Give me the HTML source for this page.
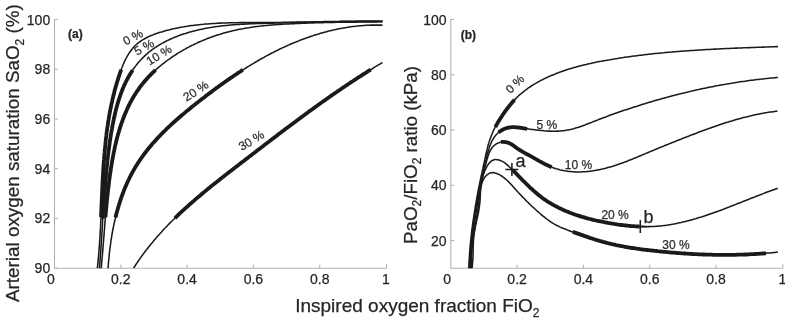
<!DOCTYPE html>
<html><head><meta charset="utf-8"><style>
html,body{margin:0;padding:0;background:#fff;width:785px;height:327px;overflow:hidden}
svg{display:block}
text{font-family:"Liberation Sans",Arial,sans-serif;fill:#262626;stroke:#262626;stroke-width:0.25px}
.tk{font-size:14px}
.cl{font-size:12px;fill:#333}
.ab{font-size:18px}
.pl{font-size:12px;font-weight:bold}
.al{font-size:19px}
.sub{font-size:12px}
</style></head><body>
<svg width="785" height="327" viewBox="0 0 785 327" xmlns="http://www.w3.org/2000/svg">
<path d="M54.5,19.2 L54.5,268.2 L386.5,268.2 L386.5,264.2" fill="none" stroke="#b4b4b4" stroke-width="1.1"/>
<line x1="54.5" y1="268.20" x2="58.0" y2="268.20" stroke="#b4b4b4" stroke-width="1.1"/>
<text x="50.2" y="273.20" text-anchor="end" class="tk">90</text>
<line x1="54.5" y1="218.46" x2="58.0" y2="218.46" stroke="#b4b4b4" stroke-width="1.1"/>
<text x="50.2" y="223.46" text-anchor="end" class="tk">92</text>
<line x1="54.5" y1="168.72" x2="58.0" y2="168.72" stroke="#b4b4b4" stroke-width="1.1"/>
<text x="50.2" y="173.72" text-anchor="end" class="tk">94</text>
<line x1="54.5" y1="118.98" x2="58.0" y2="118.98" stroke="#b4b4b4" stroke-width="1.1"/>
<text x="50.2" y="123.98" text-anchor="end" class="tk">96</text>
<line x1="54.5" y1="69.24" x2="58.0" y2="69.24" stroke="#b4b4b4" stroke-width="1.1"/>
<text x="50.2" y="74.24" text-anchor="end" class="tk">98</text>
<line x1="54.5" y1="19.50" x2="58.0" y2="19.50" stroke="#b4b4b4" stroke-width="1.1"/>
<text x="50.2" y="24.50" text-anchor="end" class="tk">100</text>
<text x="50.80" y="284.3" text-anchor="middle" class="tk">0</text>
<line x1="120.80" y1="268.2" x2="120.80" y2="264.7" stroke="#b4b4b4" stroke-width="1.1"/>
<text x="120.80" y="284.3" text-anchor="middle" class="tk">0.2</text>
<line x1="187.10" y1="268.2" x2="187.10" y2="264.7" stroke="#b4b4b4" stroke-width="1.1"/>
<text x="187.10" y="284.3" text-anchor="middle" class="tk">0.4</text>
<line x1="253.40" y1="268.2" x2="253.40" y2="264.7" stroke="#b4b4b4" stroke-width="1.1"/>
<text x="253.40" y="284.3" text-anchor="middle" class="tk">0.6</text>
<line x1="319.70" y1="268.2" x2="319.70" y2="264.7" stroke="#b4b4b4" stroke-width="1.1"/>
<text x="319.70" y="284.3" text-anchor="middle" class="tk">0.8</text>
<text x="386.00" y="284.3" text-anchor="middle" class="tk">1</text>
<path d="M450.8,19.2 L450.8,268.2 L782.8,268.2 L782.8,264.2" fill="none" stroke="#b4b4b4" stroke-width="1.1"/>
<line x1="450.8" y1="240.57" x2="454.3" y2="240.57" stroke="#b4b4b4" stroke-width="1.1"/>
<text x="446.5" y="245.57" text-anchor="end" class="tk">20</text>
<line x1="450.8" y1="185.30" x2="454.3" y2="185.30" stroke="#b4b4b4" stroke-width="1.1"/>
<text x="446.5" y="190.30" text-anchor="end" class="tk">40</text>
<line x1="450.8" y1="130.03" x2="454.3" y2="130.03" stroke="#b4b4b4" stroke-width="1.1"/>
<text x="446.5" y="135.03" text-anchor="end" class="tk">60</text>
<line x1="450.8" y1="74.77" x2="454.3" y2="74.77" stroke="#b4b4b4" stroke-width="1.1"/>
<text x="446.5" y="79.77" text-anchor="end" class="tk">80</text>
<line x1="450.8" y1="19.50" x2="454.3" y2="19.50" stroke="#b4b4b4" stroke-width="1.1"/>
<text x="446.5" y="24.50" text-anchor="end" class="tk">100</text>
<text x="447.10" y="284.3" text-anchor="middle" class="tk">0</text>
<line x1="517.10" y1="268.2" x2="517.10" y2="264.7" stroke="#b4b4b4" stroke-width="1.1"/>
<text x="517.10" y="284.3" text-anchor="middle" class="tk">0.2</text>
<line x1="583.40" y1="268.2" x2="583.40" y2="264.7" stroke="#b4b4b4" stroke-width="1.1"/>
<text x="583.40" y="284.3" text-anchor="middle" class="tk">0.4</text>
<line x1="649.70" y1="268.2" x2="649.70" y2="264.7" stroke="#b4b4b4" stroke-width="1.1"/>
<text x="649.70" y="284.3" text-anchor="middle" class="tk">0.6</text>
<line x1="716.00" y1="268.2" x2="716.00" y2="264.7" stroke="#b4b4b4" stroke-width="1.1"/>
<text x="716.00" y="284.3" text-anchor="middle" class="tk">0.8</text>
<text x="782.30" y="284.3" text-anchor="middle" class="tk">1</text>
<path d="M97.3,268.2 L97.5,266.7 L97.7,265.2 L97.8,263.7 L98.0,262.2 L98.1,260.7 L98.3,259.2 L98.4,257.7 L98.5,256.2 L98.7,254.7 L98.8,253.2 L98.9,251.7 L99.0,250.2 L99.1,248.7 L99.3,247.2 L99.4,245.7 L99.5,244.2 L99.6,242.7 L99.7,241.2 L99.8,239.7 L99.9,238.2 L100.0,236.7 L100.1,235.2 L100.1,233.6 L100.2,232.1 L100.3,230.6 L100.4,229.1 L100.5,227.6 L100.6,226.1 L100.6,224.6 L100.7,223.1 L100.8,221.6 L100.8,220.1 L100.9,218.6 L101.0,217.1 L101.1,215.6 L101.1,214.1 L101.2,212.6 L101.3,211.1 L101.3,209.6 L101.4,208.0 L101.5,206.5 L101.5,205.0 L101.6,203.5 L101.7,202.0 L101.7,200.5 L101.8,199.0 L101.9,197.5 L101.9,196.0 L102.0,194.5 L102.1,193.0 L102.1,191.5 L102.2,190.0 L102.3,188.5 L102.3,187.0 L102.4,185.5 L102.5,184.0 L102.6,182.5 L102.6,181.0 L102.7,179.5 L102.8,178.0 L102.9,176.4 L103.0,174.9 L103.1,173.4 L103.1,171.9 L103.2,170.4 L103.3,168.9 L103.4,167.4 L103.5,165.9 L103.6,164.4 L103.7,162.9 L103.8,161.4 L104.0,159.9 L104.1,158.4 L104.2,156.9 L104.3,155.4 L104.4,153.9 L104.6,152.4 L104.7,151.0 L104.8,149.5 L105.0,148.0 L105.1,146.5 L105.3,145.0 L105.4,143.5 L105.6,142.0 L105.7,140.5 L105.9,139.0 L106.1,137.5 L106.3,136.0 L106.4,134.5 L106.6,133.0 L106.8,131.5 L107.0,130.1 L107.2,128.6 L107.4,127.1 L107.7,125.6 L107.9,124.1 L108.1,122.6 L108.3,121.1 L108.6,119.6 L108.8,118.2 L109.1,116.7 L109.3,115.2 L109.6,113.7 L109.9,112.2 L110.1,110.7 L110.4,109.3 L110.7,107.8 L111.0,106.3 L111.3,104.8 L111.6,103.4 L112.0,101.9 L112.3,100.4 L112.6,98.9 L113.0,97.5 L113.3,96.0 L113.7,94.5 L114.1,93.0 L114.4,91.6 L114.8,90.1 L115.2,88.6 L115.6,87.2 L116.0,85.7 L116.5,84.2 L116.9,82.8 L117.3,81.3 L117.8,79.9 L118.2,78.4 L118.7,76.9 L119.2,75.5 L119.7,74.0 L120.1,72.6 L120.7,71.1 L121.2,69.7 L121.7,68.2 L122.3,66.8 L122.8,65.4 L123.4,64.0 L124.0,62.6 L124.7,61.2 L125.3,59.9 L126.0,58.5 L126.7,57.2 L127.4,55.9 L128.2,54.6 L128.9,53.4 L129.8,52.2 L130.6,51.0 L131.5,49.8 L132.4,48.7 L133.3,47.6 L134.3,46.5 L135.3,45.5 L136.4,44.5 L137.5,43.6 L138.6,42.7 L139.7,41.8 L140.9,41.0 L142.2,40.2 L143.4,39.4 L144.7,38.7 L146.0,38.0 L147.3,37.3 L148.7,36.6 L150.1,36.0 L151.5,35.4 L152.9,34.9 L154.3,34.3 L155.7,33.8 L157.2,33.3 L158.6,32.8 L160.1,32.3 L161.6,31.9 L163.1,31.4 L164.6,31.0 L166.1,30.6 L167.6,30.2 L169.0,29.9 L170.5,29.5 L172.0,29.1 L173.5,28.8 L175.0,28.5 L176.5,28.2 L178.0,27.9 L179.5,27.6 L181.0,27.3 L182.5,27.0 L184.0,26.8 L185.5,26.5 L187.0,26.3 L188.5,26.0 L189.9,25.8 L191.4,25.6 L192.9,25.4 L194.4,25.2 L195.9,25.0 L197.4,24.9 L198.9,24.7 L200.4,24.5 L201.9,24.4 L203.4,24.3 L204.9,24.1 L206.4,24.0 L207.9,23.9 L209.4,23.8 L210.9,23.7 L212.4,23.6 L213.9,23.5 L215.4,23.4 L216.9,23.3 L218.4,23.2 L219.9,23.1 L221.4,23.1 L222.9,23.0 L224.4,23.0 L225.9,22.9 L227.4,22.9 L228.9,22.8 L230.4,22.8 L231.9,22.8 L233.4,22.7 L234.9,22.7 L236.4,22.7 L237.9,22.7 L239.4,22.6 L240.9,22.6 L242.4,22.6 L243.9,22.6 L245.4,22.6 L246.9,22.6 L248.4,22.6 L249.9,22.6 L251.4,22.6 L252.9,22.6 L254.4,22.5 L255.9,22.5 L257.4,22.5 L258.9,22.5 L260.4,22.5 L261.9,22.5 L263.4,22.5 L264.9,22.5 L266.5,22.5 L268.0,22.5 L269.5,22.5 L271.0,22.5 L272.5,22.5 L274.0,22.4 L275.5,22.4 L277.0,22.4 L278.5,22.4 L280.0,22.4 L281.5,22.4 L283.0,22.3 L284.5,22.3 L286.0,22.3 L287.6,22.3 L289.1,22.2 L290.6,22.2 L292.1,22.2 L293.6,22.2 L295.1,22.2 L296.6,22.1 L298.1,22.1 L299.6,22.1 L301.1,22.0 L302.6,22.0 L304.2,22.0 L305.7,22.0 L307.2,21.9 L308.7,21.9 L310.2,21.9 L311.7,21.9 L313.2,21.8 L314.7,21.8 L316.2,21.8 L317.7,21.7 L319.2,21.7 L320.8,21.7 L322.3,21.7 L323.8,21.6 L325.3,21.6 L326.8,21.6 L328.3,21.5 L329.8,21.5 L331.3,21.5 L332.8,21.5 L334.3,21.4 L335.8,21.4 L337.3,21.4 L338.9,21.4 L340.4,21.3 L341.9,21.3 L343.4,21.3 L344.9,21.3 L346.4,21.3 L347.9,21.2 L349.4,21.2 L350.9,21.2 L352.4,21.2 L353.9,21.2 L355.4,21.2 L356.9,21.1 L358.4,21.1 L359.9,21.1 L361.4,21.1 L362.9,21.1 L364.4,21.1 L366.0,21.1 L367.5,21.1 L369.0,21.1 L370.5,21.1 L372.0,21.1 L373.5,21.1 L375.0,21.1 L376.5,21.1 L378.0,21.1 L379.5,21.1 L381.0,21.1 L382.5,21.1" fill="none" stroke="#1a1a1a" stroke-width="1.55" stroke-linejoin="round"/>
<path d="M101.0,217.1 L101.1,215.6 L101.1,214.1 L101.2,212.6 L101.3,211.1 L101.3,209.6 L101.4,208.0 L101.5,206.5 L101.5,205.0 L101.6,203.5 L101.7,202.0 L101.7,200.5 L101.8,199.0 L101.9,197.5 L101.9,196.0 L102.0,194.5 L102.1,193.0 L102.1,191.5 L102.2,190.0 L102.3,188.5 L102.3,187.0 L102.4,185.5 L102.5,184.0 L102.6,182.5 L102.6,181.0 L102.7,179.5 L102.8,178.0 L102.9,176.4 L103.0,174.9 L103.1,173.4 L103.1,171.9 L103.2,170.4 L103.3,168.9 L103.4,167.4 L103.5,165.9 L103.6,164.4 L103.7,162.9 L103.8,161.4 L104.0,159.9 L104.1,158.4 L104.2,156.9 L104.3,155.4 L104.4,153.9 L104.6,152.4 L104.7,151.0 L104.8,149.5 L105.0,148.0 L105.1,146.5 L105.3,145.0 L105.4,143.5 L105.6,142.0 L105.7,140.5 L105.9,139.0 L106.1,137.5 L106.3,136.0 L106.4,134.5 L106.6,133.0 L106.8,131.5 L107.0,130.1 L107.2,128.6 L107.4,127.1 L107.7,125.6 L107.9,124.1 L108.1,122.6 L108.3,121.1 L108.6,119.6 L108.8,118.2 L109.1,116.7 L109.3,115.2 L109.6,113.7 L109.9,112.2 L110.1,110.7 L110.4,109.3 L110.7,107.8 L111.0,106.3 L111.3,104.8 L111.6,103.4 L112.0,101.9 L112.3,100.4 L112.6,98.9 L113.0,97.5 L113.3,96.0 L113.7,94.5 L114.1,93.0 L114.4,91.6 L114.8,90.1 L115.2,88.6 L115.6,87.2 L116.0,85.7 L116.5,84.2 L116.9,82.8 L117.3,81.3 L117.8,79.9 L118.2,78.4 L118.7,76.9 L119.2,75.5 L119.7,74.0 L120.1,72.6 L120.7,71.1 L121.2,69.7" fill="none" stroke="#1a1a1a" stroke-width="3.8" stroke-linejoin="round"/>
<path d="M468.7,268.2 L468.8,266.7 L468.9,265.2 L469.0,263.7 L469.0,262.2 L469.1,260.7 L469.2,259.2 L469.3,257.7 L469.4,256.2 L469.5,254.7 L469.6,253.2 L469.7,251.7 L469.9,250.2 L470.0,248.7 L470.1,247.2 L470.2,245.7 L470.4,244.2 L470.5,242.7 L470.7,241.2 L470.8,239.7 L471.0,238.2 L471.2,236.7 L471.3,235.2 L471.5,233.7 L471.7,232.2 L471.8,230.7 L472.0,229.2 L472.2,227.7 L472.4,226.2 L472.6,224.7 L472.8,223.2 L473.0,221.7 L473.2,220.3 L473.4,218.8 L473.7,217.3 L473.9,215.8 L474.1,214.3 L474.3,212.8 L474.6,211.3 L474.8,209.8 L475.1,208.4 L475.3,206.9 L475.5,205.4 L475.8,203.9 L476.1,202.4 L476.3,200.9 L476.6,199.4 L476.8,198.0 L477.1,196.5 L477.4,195.0 L477.7,193.5 L478.0,192.0 L478.2,190.6 L478.5,189.1 L478.8,187.6 L479.1,186.1 L479.4,184.7 L479.7,183.2 L480.0,181.7 L480.3,180.2 L480.6,178.8 L480.9,177.3 L481.3,175.8 L481.6,174.4 L481.9,172.9 L482.2,171.4 L482.5,169.9 L482.9,168.5 L483.2,167.0 L483.5,165.5 L483.8,164.1 L484.1,162.6 L484.5,161.1 L484.8,159.6 L485.1,158.2 L485.4,156.7 L485.7,155.2 L486.1,153.8 L486.4,152.3 L486.8,150.8 L487.1,149.4 L487.5,147.9 L487.8,146.5 L488.2,145.0 L488.6,143.6 L489.1,142.2 L489.5,140.7 L490.0,139.3 L490.5,137.9 L491.0,136.5 L491.6,135.1 L492.1,133.8 L492.7,132.4 L493.3,131.0 L494.0,129.7 L494.6,128.3 L495.3,127.0 L496.0,125.7 L496.8,124.4 L497.5,123.1 L498.3,121.8 L499.1,120.5 L499.9,119.2 L500.7,117.9 L501.5,116.7 L502.3,115.4 L503.2,114.2 L504.1,112.9 L504.9,111.7 L505.8,110.5 L506.7,109.2 L507.7,108.0 L508.6,106.8 L509.5,105.6 L510.5,104.5 L511.5,103.3 L512.4,102.2 L513.4,101.0 L514.5,99.9 L515.5,98.9 L516.6,97.8 L517.6,96.7 L518.7,95.7 L519.9,94.7 L521.0,93.7 L522.1,92.8 L523.3,91.8 L524.5,90.9 L525.7,90.0 L526.9,89.1 L528.1,88.2 L529.3,87.4 L530.6,86.5 L531.8,85.7 L533.1,84.9 L534.4,84.1 L535.7,83.4 L537.0,82.6 L538.3,81.9 L539.6,81.2 L540.9,80.4 L542.3,79.8 L543.6,79.1 L545.0,78.4 L546.4,77.8 L547.7,77.1 L549.1,76.5 L550.5,75.9 L551.9,75.3 L553.3,74.7 L554.7,74.2 L556.1,73.6 L557.5,73.1 L558.9,72.5 L560.3,72.0 L561.7,71.5 L563.1,71.0 L564.6,70.5 L566.0,70.0 L567.4,69.6 L568.9,69.1 L570.3,68.7 L571.7,68.2 L573.2,67.8 L574.6,67.4 L576.1,67.0 L577.5,66.6 L579.0,66.2 L580.4,65.8 L581.9,65.4 L583.3,65.1 L584.8,64.7 L586.3,64.4 L587.7,64.0 L589.2,63.7 L590.7,63.4 L592.1,63.0 L593.6,62.7 L595.1,62.4 L596.6,62.1 L598.0,61.8 L599.5,61.5 L601.0,61.3 L602.5,61.0 L604.0,60.7 L605.4,60.4 L606.9,60.2 L608.4,59.9 L609.9,59.7 L611.4,59.4 L612.9,59.2 L614.3,58.9 L615.8,58.7 L617.3,58.5 L618.8,58.2 L620.3,58.0 L621.8,57.8 L623.3,57.6 L624.8,57.3 L626.3,57.1 L627.8,56.9 L629.2,56.7 L630.7,56.5 L632.2,56.3 L633.7,56.1 L635.2,55.9 L636.7,55.7 L638.2,55.5 L639.7,55.3 L641.2,55.2 L642.7,55.0 L644.2,54.8 L645.7,54.6 L647.2,54.5 L648.7,54.3 L650.2,54.1 L651.7,54.0 L653.2,53.8 L654.7,53.6 L656.2,53.5 L657.6,53.3 L659.1,53.2 L660.6,53.0 L662.1,52.9 L663.6,52.8 L665.1,52.6 L666.6,52.5 L668.1,52.3 L669.6,52.2 L671.1,52.1 L672.6,51.9 L674.1,51.8 L675.6,51.7 L677.1,51.6 L678.6,51.5 L680.1,51.3 L681.6,51.2 L683.1,51.1 L684.6,51.0 L686.2,50.9 L687.7,50.8 L689.2,50.7 L690.7,50.6 L692.2,50.5 L693.7,50.4 L695.2,50.3 L696.7,50.2 L698.2,50.1 L699.7,50.0 L701.2,49.9 L702.7,49.8 L704.2,49.7 L705.7,49.6 L707.2,49.5 L708.7,49.5 L710.2,49.4 L711.7,49.3 L713.2,49.2 L714.7,49.1 L716.2,49.1 L717.7,49.0 L719.2,48.9 L720.7,48.8 L722.2,48.8 L723.7,48.7 L725.2,48.6 L726.7,48.5 L728.3,48.5 L729.8,48.4 L731.3,48.3 L732.8,48.3 L734.3,48.2 L735.8,48.1 L737.3,48.1 L738.8,48.0 L740.3,48.0 L741.8,47.9 L743.3,47.8 L744.8,47.8 L746.3,47.7 L747.8,47.7 L749.3,47.6 L750.8,47.6 L752.3,47.5 L753.8,47.4 L755.3,47.4 L756.8,47.3 L758.3,47.3 L759.8,47.2 L761.4,47.2 L762.9,47.1 L764.4,47.1 L765.9,47.0 L767.4,47.0 L768.9,46.9 L770.4,46.8 L771.9,46.8 L773.4,46.7 L774.9,46.7 L776.4,46.6 L777.9,46.6" fill="none" stroke="#1a1a1a" stroke-width="1.55" stroke-linejoin="round"/>
<path d="M495.3,127.0 L496.0,125.7 L496.8,124.4 L497.5,123.1 L498.3,121.8 L499.1,120.5 L499.9,119.2 L500.7,117.9 L501.5,116.7 L502.3,115.4 L503.2,114.2 L504.1,112.9 L504.9,111.7 L505.8,110.5 L506.7,109.2 L507.7,108.0 L508.6,106.8 L509.5,105.6 L510.5,104.5 L511.5,103.3 L512.4,102.2 L513.4,101.0 L514.5,99.9" fill="none" stroke="#1a1a1a" stroke-width="3.8" stroke-linejoin="round"/>
<path d="M99.4,268.3 L99.5,266.7 L99.6,265.2 L99.8,263.7 L99.9,262.2 L100.0,260.7 L100.1,259.2 L100.2,257.6 L100.3,256.1 L100.4,254.6 L100.6,253.1 L100.7,251.6 L100.8,250.1 L100.9,248.6 L101.0,247.1 L101.1,245.6 L101.2,244.1 L101.3,242.5 L101.4,241.0 L101.5,239.5 L101.6,238.0 L101.7,236.5 L101.8,235.0 L101.9,233.5 L102.0,232.0 L102.1,230.5 L102.2,229.0 L102.3,227.5 L102.4,226.0 L102.5,224.5 L102.5,223.0 L102.6,221.5 L102.7,220.0 L102.8,218.5 L102.9,217.0 L103.0,215.5 L103.1,214.0 L103.2,212.5 L103.3,211.0 L103.4,209.5 L103.5,208.0 L103.6,206.5 L103.7,205.0 L103.8,203.5 L103.9,202.0 L104.0,200.5 L104.1,199.0 L104.3,197.5 L104.4,196.0 L104.5,194.5 L104.6,193.0 L104.7,191.5 L104.8,190.0 L104.9,188.5 L105.0,187.0 L105.2,185.5 L105.3,184.0 L105.4,182.5 L105.5,181.0 L105.7,179.5 L105.8,178.0 L105.9,176.5 L106.0,175.0 L106.2,173.5 L106.3,172.0 L106.5,170.5 L106.6,169.0 L106.8,167.5 L106.9,166.0 L107.1,164.5 L107.2,163.0 L107.4,161.5 L107.5,160.0 L107.7,158.5 L107.9,157.0 L108.0,155.5 L108.2,154.0 L108.4,152.5 L108.6,151.0 L108.8,149.5 L109.0,148.0 L109.2,146.5 L109.4,145.0 L109.6,143.5 L109.8,142.0 L110.0,140.6 L110.2,139.1 L110.5,137.6 L110.7,136.1 L110.9,134.6 L111.2,133.1 L111.4,131.6 L111.7,130.1 L112.0,128.6 L112.2,127.1 L112.5,125.6 L112.8,124.1 L113.1,122.6 L113.4,121.1 L113.7,119.6 L114.0,118.1 L114.4,116.6 L114.7,115.1 L115.1,113.6 L115.4,112.1 L115.8,110.6 L116.1,109.1 L116.5,107.7 L116.9,106.2 L117.3,104.7 L117.8,103.2 L118.2,101.8 L118.6,100.3 L119.1,98.9 L119.6,97.4 L120.1,96.0 L120.6,94.5 L121.1,93.1 L121.6,91.7 L122.2,90.3 L122.7,88.8 L123.3,87.5 L123.9,86.1 L124.5,84.7 L125.2,83.3 L125.8,82.0 L126.5,80.6 L127.2,79.3 L127.9,77.9 L128.7,76.6 L129.4,75.3 L130.2,74.0 L131.0,72.8 L131.8,71.5 L132.6,70.2 L133.4,69.0 L134.3,67.8 L135.2,66.6 L136.1,65.4 L137.0,64.2 L137.9,63.1 L138.9,62.0 L139.9,60.8 L140.9,59.8 L141.9,58.7 L142.9,57.6 L144.0,56.6 L145.0,55.6 L146.1,54.6 L147.3,53.6 L148.4,52.6 L149.5,51.7 L150.7,50.8 L151.9,49.9 L153.1,49.0 L154.3,48.2 L155.6,47.3 L156.8,46.5 L158.1,45.7 L159.3,44.9 L160.6,44.2 L161.9,43.4 L163.3,42.7 L164.6,42.0 L165.9,41.3 L167.3,40.6 L168.6,40.0 L170.0,39.3 L171.4,38.7 L172.8,38.1 L174.2,37.5 L175.6,36.9 L177.0,36.4 L178.4,35.8 L179.8,35.3 L181.2,34.8 L182.7,34.3 L184.1,33.8 L185.5,33.4 L187.0,32.9 L188.4,32.5 L189.9,32.1 L191.3,31.7 L192.8,31.3 L194.3,30.9 L195.7,30.5 L197.2,30.2 L198.7,29.8 L200.1,29.5 L201.6,29.2 L203.1,28.9 L204.6,28.6 L206.0,28.3 L207.5,28.0 L209.0,27.8 L210.5,27.5 L212.0,27.3 L213.5,27.0 L215.0,26.8 L216.5,26.6 L218.0,26.4 L219.5,26.2 L221.0,26.0 L222.5,25.8 L224.0,25.7 L225.5,25.5 L227.0,25.4 L228.5,25.2 L230.0,25.1 L231.5,25.0 L233.1,24.8 L234.6,24.7 L236.1,24.6 L237.6,24.5 L239.1,24.4 L240.6,24.3 L242.2,24.2 L243.7,24.1 L245.2,24.1 L246.7,24.0 L248.2,23.9 L249.7,23.8 L251.3,23.8 L252.8,23.7 L254.3,23.7 L255.8,23.6 L257.3,23.5 L258.9,23.5 L260.4,23.4 L261.9,23.4 L263.4,23.4 L264.9,23.3 L266.4,23.3 L268.0,23.2 L269.5,23.2 L271.0,23.1 L272.5,23.1 L274.0,23.1 L275.5,23.0 L277.0,23.0 L278.5,22.9 L280.1,22.9 L281.6,22.9 L283.1,22.8 L284.6,22.8 L286.1,22.8 L287.6,22.7 L289.1,22.7 L290.6,22.6 L292.1,22.6 L293.6,22.6 L295.1,22.5 L296.6,22.5 L298.1,22.5 L299.6,22.4 L301.1,22.4 L302.6,22.3 L304.1,22.3 L305.6,22.3 L307.1,22.2 L308.6,22.2 L310.1,22.2 L311.6,22.1 L313.1,22.1 L314.6,22.1 L316.1,22.1 L317.6,22.0 L319.1,22.0 L320.6,22.0 L322.1,21.9 L323.6,21.9 L325.1,21.9 L326.6,21.9 L328.1,21.8 L329.6,21.8 L331.1,21.8 L332.6,21.8 L334.1,21.7 L335.6,21.7 L337.1,21.7 L338.6,21.7 L340.1,21.6 L341.6,21.6 L343.1,21.6 L344.7,21.6 L346.2,21.6 L347.7,21.5 L349.2,21.5 L350.7,21.5 L352.2,21.5 L353.7,21.5 L355.2,21.5 L356.7,21.5 L358.2,21.4 L359.8,21.4 L361.3,21.4 L362.8,21.4 L364.3,21.4 L365.8,21.4 L367.3,21.4 L368.9,21.4 L370.4,21.4 L371.9,21.4 L373.4,21.4 L375.0,21.4 L376.5,21.4 L378.0,21.4 L379.5,21.4 L381.1,21.4 L382.6,21.4" fill="none" stroke="#1a1a1a" stroke-width="1.55" stroke-linejoin="round"/>
<path d="M102.8,218.5 L102.9,217.0 L103.0,215.5 L103.1,214.0 L103.2,212.5 L103.3,211.0 L103.4,209.5 L103.5,208.0 L103.6,206.5 L103.7,205.0 L103.8,203.5 L103.9,202.0 L104.0,200.5 L104.1,199.0 L104.3,197.5 L104.4,196.0 L104.5,194.5 L104.6,193.0 L104.7,191.5 L104.8,190.0 L104.9,188.5 L105.0,187.0 L105.2,185.5 L105.3,184.0 L105.4,182.5 L105.5,181.0 L105.7,179.5 L105.8,178.0 L105.9,176.5 L106.0,175.0 L106.2,173.5 L106.3,172.0 L106.5,170.5 L106.6,169.0 L106.8,167.5 L106.9,166.0 L107.1,164.5 L107.2,163.0 L107.4,161.5 L107.5,160.0 L107.7,158.5 L107.9,157.0 L108.0,155.5 L108.2,154.0 L108.4,152.5 L108.6,151.0 L108.8,149.5 L109.0,148.0 L109.2,146.5 L109.4,145.0 L109.6,143.5 L109.8,142.0 L110.0,140.6 L110.2,139.1 L110.5,137.6 L110.7,136.1 L110.9,134.6 L111.2,133.1 L111.4,131.6 L111.7,130.1 L112.0,128.6 L112.2,127.1 L112.5,125.6 L112.8,124.1 L113.1,122.6 L113.4,121.1 L113.7,119.6 L114.0,118.1 L114.4,116.6 L114.7,115.1 L115.1,113.6 L115.4,112.1 L115.8,110.6 L116.1,109.1 L116.5,107.7 L116.9,106.2 L117.3,104.7 L117.8,103.2 L118.2,101.8 L118.6,100.3 L119.1,98.9 L119.6,97.4 L120.1,96.0 L120.6,94.5 L121.1,93.1 L121.6,91.7 L122.2,90.3 L122.7,88.8 L123.3,87.5 L123.9,86.1 L124.5,84.7 L125.2,83.3 L125.8,82.0 L126.5,80.6 L127.2,79.3 L127.9,77.9 L128.7,76.6 L129.4,75.3 L130.2,74.0 L131.0,72.8 L131.8,71.5 L132.6,70.2" fill="none" stroke="#1a1a1a" stroke-width="3.8" stroke-linejoin="round"/>
<path d="M469.6,268.1 L469.6,266.7 L469.7,265.2 L469.8,263.7 L469.8,262.2 L469.9,260.7 L470.0,259.2 L470.1,257.7 L470.2,256.2 L470.3,254.7 L470.4,253.2 L470.5,251.7 L470.6,250.2 L470.8,248.7 L470.9,247.2 L471.0,245.7 L471.2,244.2 L471.3,242.7 L471.4,241.2 L471.6,239.6 L471.8,238.1 L471.9,236.6 L472.1,235.1 L472.3,233.6 L472.4,232.1 L472.6,230.6 L472.8,229.0 L473.0,227.5 L473.2,226.0 L473.4,224.5 L473.6,223.0 L473.8,221.5 L474.0,220.0 L474.2,218.5 L474.4,217.0 L474.7,215.5 L474.9,214.0 L475.1,212.5 L475.4,211.0 L475.6,209.5 L475.9,208.0 L476.1,206.5 L476.4,205.1 L476.6,203.6 L476.9,202.1 L477.2,200.6 L477.5,199.2 L477.7,197.7 L478.0,196.3 L478.3,194.8 L478.6,193.3 L478.9,191.9 L479.2,190.4 L479.5,189.0 L479.8,187.5 L480.1,186.1 L480.4,184.7 L480.7,183.2 L481.0,181.7 L481.4,180.3 L481.7,178.8 L482.0,177.4 L482.3,175.9 L482.7,174.5 L483.0,173.0 L483.3,171.5 L483.7,170.1 L484.0,168.6 L484.4,167.1 L484.7,165.6 L485.0,164.1 L485.4,162.6 L485.7,161.1 L486.1,159.6 L486.5,158.0 L486.8,156.5 L487.2,155.0 L487.6,153.5 L488.0,151.9 L488.4,150.4 L488.9,148.9 L489.3,147.5 L489.8,146.0 L490.4,144.6 L491.0,143.2 L491.6,141.8 L492.2,140.5 L493.0,139.2 L493.7,138.0 L494.5,136.8 L495.4,135.6 L496.4,134.5 L497.4,133.5 L498.5,132.5 L499.6,131.6 L500.8,130.8 L502.1,130.0 L503.4,129.3 L504.8,128.7 L506.2,128.2 L507.6,127.8 L509.0,127.5 L510.5,127.3 L512.0,127.1 L513.5,127.1 L515.0,127.2 L516.5,127.3 L518.0,127.5 L519.5,127.7 L521.0,127.9 L522.6,128.1 L524.1,128.3 L525.6,128.6 L527.1,128.8 L528.6,129.0 L530.2,129.2 L531.7,129.4 L533.2,129.6 L534.7,129.8 L536.2,130.0 L537.7,130.2 L539.3,130.3 L540.8,130.5 L542.3,130.6 L543.8,130.8 L545.3,130.9 L546.8,131.0 L548.3,131.1 L549.8,131.1 L551.3,131.2 L552.8,131.2 L554.3,131.2 L555.8,131.2 L557.3,131.1 L558.8,131.1 L560.3,131.0 L561.8,130.8 L563.2,130.7 L564.7,130.5 L566.2,130.3 L567.7,130.0 L569.1,129.7 L570.6,129.4 L572.0,129.0 L573.5,128.7 L574.9,128.3 L576.4,127.8 L577.8,127.4 L579.3,126.9 L580.7,126.4 L582.2,125.9 L583.6,125.4 L585.0,124.9 L586.5,124.3 L587.9,123.8 L589.3,123.2 L590.7,122.7 L592.2,122.1 L593.6,121.5 L595.0,121.0 L596.4,120.4 L597.8,119.9 L599.3,119.3 L600.7,118.8 L602.1,118.3 L603.5,117.7 L604.9,117.2 L606.3,116.7 L607.8,116.1 L609.2,115.6 L610.6,115.1 L612.0,114.6 L613.4,114.1 L614.8,113.6 L616.3,113.1 L617.7,112.6 L619.1,112.1 L620.5,111.6 L621.9,111.1 L623.4,110.6 L624.8,110.1 L626.2,109.7 L627.6,109.2 L629.1,108.7 L630.5,108.2 L631.9,107.8 L633.4,107.3 L634.8,106.8 L636.2,106.4 L637.7,105.9 L639.1,105.5 L640.5,105.0 L642.0,104.6 L643.4,104.1 L644.8,103.7 L646.3,103.2 L647.7,102.8 L649.2,102.3 L650.6,101.9 L652.1,101.5 L653.5,101.1 L655.0,100.6 L656.4,100.2 L657.9,99.8 L659.3,99.4 L660.8,99.0 L662.2,98.6 L663.7,98.2 L665.1,97.8 L666.6,97.4 L668.0,97.0 L669.5,96.6 L671.0,96.2 L672.4,95.8 L673.9,95.4 L675.3,95.1 L676.8,94.7 L678.3,94.3 L679.7,93.9 L681.2,93.6 L682.7,93.2 L684.1,92.9 L685.6,92.5 L687.1,92.2 L688.5,91.8 L690.0,91.5 L691.5,91.1 L692.9,90.8 L694.4,90.4 L695.9,90.1 L697.4,89.8 L698.8,89.5 L700.3,89.1 L701.8,88.8 L703.3,88.5 L704.8,88.2 L706.2,87.9 L707.7,87.6 L709.2,87.3 L710.7,87.0 L712.2,86.7 L713.6,86.4 L715.1,86.1 L716.6,85.8 L718.1,85.6 L719.6,85.3 L721.1,85.0 L722.5,84.7 L724.0,84.5 L725.5,84.2 L727.0,84.0 L728.5,83.7 L730.0,83.5 L731.5,83.2 L733.0,83.0 L734.5,82.7 L736.0,82.5 L737.4,82.3 L738.9,82.0 L740.4,81.8 L741.9,81.6 L743.4,81.4 L744.9,81.2 L746.4,80.9 L747.9,80.7 L749.4,80.5 L750.9,80.3 L752.4,80.2 L753.9,80.0 L755.4,79.8 L756.9,79.6 L758.4,79.4 L759.9,79.2 L761.4,79.1 L762.9,78.9 L764.4,78.7 L765.9,78.6 L767.4,78.4 L768.9,78.3 L770.4,78.1 L771.9,78.0 L773.4,77.9 L774.9,77.7 L776.4,77.6 L777.9,77.5" fill="none" stroke="#1a1a1a" stroke-width="1.55" stroke-linejoin="round"/>
<path d="M498.5,132.5 L499.6,131.6 L500.8,130.8 L502.1,130.0 L503.4,129.3 L504.8,128.7 L506.2,128.2 L507.6,127.8 L509.0,127.5 L510.5,127.3 L512.0,127.1 L513.5,127.1 L515.0,127.2 L516.5,127.3 L518.0,127.5 L519.5,127.7 L521.0,127.9 L522.6,128.1 L524.1,128.3 L525.6,128.6 L527.1,128.8" fill="none" stroke="#1a1a1a" stroke-width="3.8" stroke-linejoin="round"/>
<path d="M101.2,268.2 L101.3,266.7 L101.5,265.2 L101.6,263.7 L101.7,262.2 L101.9,260.7 L102.0,259.2 L102.1,257.6 L102.3,256.1 L102.4,254.6 L102.5,253.1 L102.7,251.6 L102.8,250.1 L102.9,248.6 L103.0,247.1 L103.1,245.6 L103.3,244.1 L103.4,242.6 L103.5,241.1 L103.6,239.6 L103.7,238.1 L103.9,236.6 L104.0,235.1 L104.1,233.6 L104.2,232.2 L104.3,230.7 L104.5,229.2 L104.6,227.7 L104.7,226.2 L104.8,224.7 L104.9,223.2 L105.1,221.7 L105.2,220.2 L105.3,218.7 L105.4,217.2 L105.6,215.7 L105.7,214.2 L105.8,212.8 L106.0,211.3 L106.1,209.8 L106.2,208.3 L106.4,206.8 L106.5,205.3 L106.6,203.8 L106.8,202.3 L106.9,200.8 L107.1,199.3 L107.2,197.9 L107.4,196.4 L107.6,194.9 L107.7,193.4 L107.9,191.9 L108.0,190.4 L108.2,188.9 L108.4,187.4 L108.6,185.9 L108.8,184.4 L108.9,182.9 L109.1,181.4 L109.3,179.9 L109.5,178.4 L109.7,176.9 L109.9,175.4 L110.1,173.9 L110.4,172.4 L110.6,171.0 L110.8,169.4 L111.0,167.9 L111.3,166.4 L111.5,164.9 L111.8,163.4 L112.0,161.9 L112.3,160.4 L112.6,158.9 L112.8,157.4 L113.1,155.9 L113.4,154.4 L113.7,152.9 L114.0,151.5 L114.3,150.0 L114.6,148.5 L114.9,147.0 L115.3,145.5 L115.6,144.0 L116.0,142.5 L116.3,141.1 L116.7,139.6 L117.1,138.1 L117.4,136.6 L117.8,135.2 L118.2,133.7 L118.7,132.3 L119.1,130.8 L119.5,129.4 L120.0,127.9 L120.4,126.5 L120.9,125.1 L121.4,123.6 L121.9,122.2 L122.4,120.8 L122.9,119.4 L123.4,118.0 L124.0,116.6 L124.5,115.2 L125.1,113.8 L125.7,112.4 L126.3,111.1 L126.9,109.7 L127.5,108.3 L128.1,107.0 L128.8,105.7 L129.4,104.3 L130.1,103.0 L130.8,101.7 L131.5,100.4 L132.2,99.1 L133.0,97.8 L133.7,96.5 L134.5,95.3 L135.3,94.0 L136.1,92.8 L136.9,91.5 L137.7,90.3 L138.6,89.1 L139.4,87.9 L140.3,86.7 L141.2,85.5 L142.1,84.3 L143.1,83.2 L144.0,82.0 L145.0,80.9 L146.0,79.7 L147.0,78.6 L148.0,77.5 L149.0,76.4 L150.1,75.4 L151.1,74.3 L152.2,73.2 L153.3,72.2 L154.4,71.2 L155.5,70.1 L156.6,69.1 L157.7,68.1 L158.9,67.1 L160.1,66.2 L161.2,65.2 L162.4,64.2 L163.6,63.3 L164.8,62.4 L166.0,61.4 L167.2,60.5 L168.4,59.6 L169.7,58.8 L170.9,57.9 L172.2,57.0 L173.4,56.2 L174.7,55.3 L176.0,54.5 L177.2,53.7 L178.5,52.9 L179.8,52.1 L181.1,51.3 L182.4,50.6 L183.7,49.8 L185.1,49.1 L186.4,48.3 L187.7,47.6 L189.0,46.9 L190.4,46.2 L191.7,45.5 L193.1,44.9 L194.4,44.2 L195.8,43.6 L197.2,42.9 L198.5,42.3 L199.9,41.7 L201.3,41.1 L202.7,40.5 L204.0,39.9 L205.4,39.4 L206.8,38.8 L208.2,38.3 L209.6,37.8 L211.0,37.2 L212.4,36.7 L213.8,36.2 L215.3,35.8 L216.7,35.3 L218.1,34.8 L219.5,34.4 L221.0,33.9 L222.4,33.5 L223.8,33.1 L225.3,32.7 L226.7,32.3 L228.2,31.9 L229.6,31.5 L231.1,31.2 L232.5,30.8 L234.0,30.5 L235.4,30.2 L236.9,29.8 L238.4,29.5 L239.8,29.2 L241.3,28.9 L242.8,28.7 L244.3,28.4 L245.7,28.1 L247.2,27.9 L248.7,27.7 L250.2,27.4 L251.7,27.2 L253.2,27.0 L254.7,26.8 L256.1,26.6 L257.6,26.4 L259.1,26.2 L260.6,26.1 L262.1,25.9 L263.6,25.7 L265.1,25.6 L266.6,25.4 L268.1,25.3 L269.6,25.2 L271.1,25.0 L272.7,24.9 L274.2,24.8 L275.7,24.7 L277.2,24.6 L278.7,24.5 L280.2,24.4 L281.7,24.3 L283.2,24.2 L284.7,24.1 L286.2,24.0 L287.7,23.9 L289.2,23.9 L290.7,23.8 L292.2,23.7 L293.7,23.6 L295.2,23.6 L296.8,23.5 L298.3,23.4 L299.8,23.4 L301.3,23.3 L302.8,23.2 L304.3,23.2 L305.8,23.1 L307.3,23.1 L308.8,23.0 L310.3,23.0 L311.8,22.9 L313.3,22.9 L314.8,22.8 L316.3,22.8 L317.8,22.7 L319.3,22.7 L320.8,22.7 L322.3,22.6 L323.8,22.6 L325.3,22.5 L326.8,22.5 L328.3,22.5 L329.8,22.5 L331.3,22.4 L332.8,22.4 L334.3,22.4 L335.9,22.3 L337.4,22.3 L338.9,22.3 L340.4,22.3 L341.9,22.2 L343.4,22.2 L344.9,22.2 L346.4,22.2 L347.9,22.2 L349.4,22.1 L350.9,22.1 L352.4,22.1 L353.9,22.1 L355.4,22.1 L356.9,22.1 L358.4,22.0 L359.9,22.0 L361.4,22.0 L362.9,22.0 L364.4,22.0 L365.9,22.0 L367.4,21.9 L368.9,21.9 L370.4,21.9 L372.0,21.9 L373.5,21.9 L375.0,21.9 L376.5,21.9 L378.0,21.8 L379.5,21.8 L381.0,21.8 L382.5,21.8" fill="none" stroke="#1a1a1a" stroke-width="1.55" stroke-linejoin="round"/>
<path d="M105.4,217.2 L105.6,215.7 L105.7,214.2 L105.8,212.8 L106.0,211.3 L106.1,209.8 L106.2,208.3 L106.4,206.8 L106.5,205.3 L106.6,203.8 L106.8,202.3 L106.9,200.8 L107.1,199.3 L107.2,197.9 L107.4,196.4 L107.6,194.9 L107.7,193.4 L107.9,191.9 L108.0,190.4 L108.2,188.9 L108.4,187.4 L108.6,185.9 L108.8,184.4 L108.9,182.9 L109.1,181.4 L109.3,179.9 L109.5,178.4 L109.7,176.9 L109.9,175.4 L110.1,173.9 L110.4,172.4 L110.6,171.0 L110.8,169.4 L111.0,167.9 L111.3,166.4 L111.5,164.9 L111.8,163.4 L112.0,161.9 L112.3,160.4 L112.6,158.9 L112.8,157.4 L113.1,155.9 L113.4,154.4 L113.7,152.9 L114.0,151.5 L114.3,150.0 L114.6,148.5 L114.9,147.0 L115.3,145.5 L115.6,144.0 L116.0,142.5 L116.3,141.1 L116.7,139.6 L117.1,138.1 L117.4,136.6 L117.8,135.2 L118.2,133.7 L118.7,132.3 L119.1,130.8 L119.5,129.4 L120.0,127.9 L120.4,126.5 L120.9,125.1 L121.4,123.6 L121.9,122.2 L122.4,120.8 L122.9,119.4 L123.4,118.0 L124.0,116.6 L124.5,115.2 L125.1,113.8 L125.7,112.4 L126.3,111.1 L126.9,109.7 L127.5,108.3 L128.1,107.0 L128.8,105.7 L129.4,104.3 L130.1,103.0 L130.8,101.7 L131.5,100.4 L132.2,99.1 L133.0,97.8 L133.7,96.5 L134.5,95.3 L135.3,94.0 L136.1,92.8 L136.9,91.5 L137.7,90.3 L138.6,89.1 L139.4,87.9 L140.3,86.7 L141.2,85.5 L142.1,84.3 L143.1,83.2 L144.0,82.0 L145.0,80.9 L146.0,79.7 L147.0,78.6 L148.0,77.5 L149.0,76.4 L150.1,75.4 L151.1,74.3 L152.2,73.2 L153.3,72.2 L154.4,71.2 L155.5,70.1" fill="none" stroke="#1a1a1a" stroke-width="3.8" stroke-linejoin="round"/>
<path d="M470.4,268.2 L470.4,266.7 L470.5,265.2 L470.5,263.7 L470.6,262.2 L470.7,260.7 L470.8,259.2 L470.8,257.7 L470.9,256.2 L471.0,254.7 L471.1,253.2 L471.3,251.7 L471.4,250.2 L471.5,248.7 L471.6,247.2 L471.8,245.7 L471.9,244.2 L472.1,242.7 L472.2,241.2 L472.4,239.7 L472.5,238.2 L472.7,236.7 L472.9,235.2 L473.1,233.7 L473.2,232.2 L473.4,230.7 L473.6,229.2 L473.8,227.7 L474.0,226.2 L474.2,224.7 L474.4,223.2 L474.7,221.7 L474.9,220.2 L475.1,218.7 L475.3,217.2 L475.6,215.7 L475.8,214.2 L476.0,212.7 L476.3,211.2 L476.5,209.8 L476.7,208.3 L477.0,206.8 L477.2,205.3 L477.5,203.8 L477.7,202.4 L478.0,200.9 L478.2,199.4 L478.5,197.9 L478.8,196.5 L479.0,195.0 L479.3,193.5 L479.6,192.1 L479.8,190.6 L480.1,189.1 L480.4,187.7 L480.7,186.2 L481.0,184.7 L481.3,183.3 L481.6,181.8 L481.9,180.4 L482.2,178.9 L482.5,177.4 L482.8,176.0 L483.2,174.5 L483.5,173.0 L483.9,171.6 L484.2,170.1 L484.6,168.6 L484.9,167.1 L485.3,165.7 L485.7,164.2 L486.1,162.7 L486.5,161.2 L486.9,159.7 L487.4,158.2 L487.8,156.8 L488.3,155.3 L488.8,153.8 L489.4,152.4 L490.0,151.1 L490.7,149.8 L491.5,148.5 L492.4,147.3 L493.3,146.3 L494.4,145.3 L495.6,144.4 L496.8,143.6 L498.2,142.9 L499.6,142.4 L501.0,142.1 L502.5,141.9 L504.0,141.9 L505.5,142.1 L506.9,142.4 L508.4,142.8 L509.8,143.4 L511.1,144.1 L512.4,144.9 L513.7,145.8 L514.9,146.7 L516.1,147.6 L517.4,148.5 L518.6,149.3 L519.9,150.1 L521.1,150.9 L522.4,151.6 L523.7,152.4 L525.0,153.1 L526.3,153.8 L527.6,154.5 L528.9,155.2 L530.2,155.9 L531.5,156.6 L532.8,157.4 L534.1,158.1 L535.4,158.9 L536.8,159.6 L538.1,160.4 L539.4,161.1 L540.8,161.8 L542.1,162.6 L543.5,163.3 L544.8,164.0 L546.2,164.7 L547.6,165.3 L549.0,166.0 L550.3,166.6 L551.7,167.1 L553.2,167.7 L554.6,168.2 L556.0,168.7 L557.4,169.1 L558.9,169.5 L560.3,169.9 L561.8,170.2 L563.3,170.5 L564.7,170.8 L566.2,171.0 L567.7,171.2 L569.2,171.4 L570.7,171.6 L572.1,171.7 L573.6,171.8 L575.1,171.9 L576.6,171.9 L578.1,171.9 L579.6,171.9 L581.1,171.9 L582.6,171.8 L584.1,171.8 L585.6,171.7 L587.1,171.5 L588.6,171.4 L590.1,171.2 L591.6,171.0 L593.1,170.8 L594.6,170.6 L596.1,170.3 L597.6,170.0 L599.0,169.7 L600.5,169.4 L602.0,169.1 L603.4,168.8 L604.9,168.4 L606.4,168.0 L607.8,167.6 L609.3,167.2 L610.7,166.8 L612.1,166.4 L613.6,165.9 L615.0,165.5 L616.5,165.0 L617.9,164.5 L619.3,164.0 L620.7,163.5 L622.2,163.0 L623.6,162.5 L625.0,161.9 L626.4,161.4 L627.8,160.9 L629.2,160.3 L630.6,159.8 L632.1,159.2 L633.5,158.6 L634.9,158.1 L636.3,157.5 L637.7,156.9 L639.1,156.3 L640.5,155.7 L641.9,155.1 L643.3,154.5 L644.7,154.0 L646.0,153.4 L647.4,152.8 L648.8,152.2 L650.2,151.6 L651.6,151.0 L653.0,150.4 L654.4,149.9 L655.8,149.3 L657.2,148.7 L658.6,148.1 L660.0,147.6 L661.4,147.0 L662.7,146.4 L664.1,145.9 L665.5,145.3 L666.9,144.7 L668.3,144.2 L669.7,143.6 L671.1,143.0 L672.5,142.5 L673.9,141.9 L675.3,141.4 L676.7,140.8 L678.1,140.3 L679.5,139.7 L680.9,139.2 L682.2,138.6 L683.6,138.1 L685.0,137.5 L686.4,137.0 L687.8,136.4 L689.2,135.9 L690.6,135.3 L692.0,134.8 L693.5,134.2 L694.9,133.7 L696.3,133.2 L697.7,132.6 L699.1,132.1 L700.5,131.6 L701.9,131.0 L703.3,130.5 L704.7,130.0 L706.1,129.5 L707.6,129.0 L709.0,128.4 L710.4,127.9 L711.8,127.4 L713.2,126.9 L714.7,126.4 L716.1,125.9 L717.5,125.5 L718.9,125.0 L720.4,124.5 L721.8,124.0 L723.2,123.6 L724.7,123.1 L726.1,122.6 L727.5,122.2 L729.0,121.7 L730.4,121.3 L731.8,120.9 L733.3,120.4 L734.7,120.0 L736.2,119.6 L737.6,119.2 L739.1,118.8 L740.5,118.4 L742.0,118.0 L743.4,117.6 L744.9,117.2 L746.4,116.9 L747.8,116.5 L749.3,116.2 L750.8,115.8 L752.2,115.5 L753.7,115.1 L755.2,114.8 L756.6,114.5 L758.1,114.2 L759.6,113.9 L761.1,113.6 L762.6,113.4 L764.0,113.1 L765.5,112.8 L767.0,112.6 L768.5,112.3 L770.0,112.1 L771.5,111.9 L773.0,111.7 L774.5,111.5 L776.0,111.3 L777.5,111.1" fill="none" stroke="#1a1a1a" stroke-width="1.55" stroke-linejoin="round"/>
<path d="M501.0,142.1 L502.5,141.9 L504.0,141.9 L505.5,142.1 L506.9,142.4 L508.4,142.8 L509.8,143.4 L511.1,144.1 L512.4,144.9 L513.7,145.8 L514.9,146.7 L516.1,147.6 L517.4,148.5 L518.6,149.3 L519.9,150.1 L521.1,150.9 L522.4,151.6 L523.7,152.4 L525.0,153.1 L526.3,153.8 L527.6,154.5 L528.9,155.2 L530.2,155.9 L531.5,156.6 L532.8,157.4 L534.1,158.1 L535.4,158.9 L536.8,159.6 L538.1,160.4 L539.4,161.1 L540.8,161.8 L542.1,162.6 L543.5,163.3 L544.8,164.0 L546.2,164.7 L547.6,165.3 L549.0,166.0 L550.3,166.6 L551.7,167.1" fill="none" stroke="#1a1a1a" stroke-width="3.8" stroke-linejoin="round"/>
<path d="M108.1,268.2 L108.2,266.7 L108.3,265.3 L108.4,263.8 L108.5,262.3 L108.6,260.9 L108.8,259.4 L108.9,257.9 L109.1,256.4 L109.2,254.9 L109.4,253.4 L109.5,251.9 L109.7,250.5 L109.9,249.0 L110.1,247.5 L110.3,246.0 L110.5,244.5 L110.7,243.0 L110.9,241.5 L111.1,240.0 L111.4,238.5 L111.6,237.0 L111.8,235.5 L112.1,234.0 L112.4,232.5 L112.6,231.0 L112.9,229.5 L113.2,228.0 L113.5,226.5 L113.8,225.0 L114.1,223.5 L114.5,222.0 L114.8,220.5 L115.2,219.0 L115.5,217.5 L115.9,216.1 L116.2,214.6 L116.6,213.1 L117.0,211.6 L117.4,210.2 L117.8,208.7 L118.3,207.2 L118.7,205.8 L119.1,204.3 L119.6,202.9 L120.0,201.4 L120.5,200.0 L121.0,198.5 L121.5,197.1 L122.0,195.7 L122.5,194.3 L123.1,192.8 L123.6,191.4 L124.1,190.0 L124.7,188.6 L125.3,187.2 L125.9,185.8 L126.5,184.5 L127.1,183.1 L127.7,181.7 L128.3,180.4 L129.0,179.0 L129.6,177.7 L130.3,176.3 L131.0,175.0 L131.7,173.7 L132.4,172.4 L133.1,171.1 L133.8,169.8 L134.6,168.5 L135.3,167.2 L136.1,165.9 L136.9,164.7 L137.7,163.4 L138.5,162.2 L139.3,160.9 L140.2,159.7 L141.0,158.5 L141.8,157.3 L142.7,156.1 L143.6,154.9 L144.5,153.7 L145.4,152.5 L146.3,151.3 L147.2,150.2 L148.1,149.0 L149.1,147.8 L150.0,146.7 L151.0,145.6 L151.9,144.4 L152.9,143.3 L153.9,142.2 L154.9,141.1 L155.9,140.0 L156.9,138.9 L157.9,137.8 L158.9,136.7 L160.0,135.6 L161.0,134.5 L162.1,133.4 L163.1,132.4 L164.2,131.3 L165.3,130.3 L166.3,129.2 L167.4,128.2 L168.5,127.1 L169.6,126.1 L170.7,125.1 L171.8,124.0 L172.9,123.0 L174.1,122.0 L175.2,121.0 L176.3,120.0 L177.5,119.0 L178.6,118.0 L179.8,117.0 L180.9,116.0 L182.1,115.0 L183.2,114.1 L184.4,113.1 L185.5,112.1 L186.7,111.1 L187.9,110.2 L189.1,109.2 L190.3,108.2 L191.4,107.3 L192.6,106.3 L193.8,105.4 L195.0,104.4 L196.2,103.5 L197.4,102.6 L198.6,101.6 L199.8,100.7 L201.0,99.7 L202.2,98.8 L203.4,97.9 L204.6,97.0 L205.8,96.0 L207.0,95.1 L208.2,94.2 L209.4,93.3 L210.7,92.4 L211.9,91.5 L213.1,90.6 L214.3,89.6 L215.5,88.7 L216.7,87.9 L218.0,87.0 L219.2,86.1 L220.4,85.2 L221.7,84.3 L222.9,83.4 L224.1,82.5 L225.4,81.7 L226.6,80.8 L227.8,79.9 L229.1,79.1 L230.3,78.2 L231.6,77.4 L232.8,76.5 L234.1,75.7 L235.3,74.8 L236.6,74.0 L237.8,73.2 L239.1,72.3 L240.4,71.5 L241.6,70.7 L242.9,69.9 L244.2,69.1 L245.4,68.3 L246.7,67.5 L248.0,66.7 L249.3,65.9 L250.5,65.1 L251.8,64.3 L253.1,63.6 L254.4,62.8 L255.7,62.0 L257.0,61.3 L258.3,60.5 L259.6,59.8 L260.9,59.0 L262.2,58.3 L263.5,57.6 L264.8,56.8 L266.1,56.1 L267.4,55.4 L268.8,54.7 L270.1,54.0 L271.4,53.3 L272.7,52.6 L274.1,52.0 L275.4,51.3 L276.8,50.6 L278.1,50.0 L279.4,49.3 L280.8,48.6 L282.1,48.0 L283.5,47.4 L284.9,46.7 L286.2,46.1 L287.6,45.5 L289.0,44.9 L290.3,44.3 L291.7,43.7 L293.1,43.1 L294.5,42.6 L295.9,42.0 L297.2,41.4 L298.6,40.9 L300.0,40.3 L301.4,39.8 L302.8,39.3 L304.2,38.7 L305.7,38.2 L307.1,37.7 L308.5,37.2 L309.9,36.7 L311.3,36.2 L312.8,35.8 L314.2,35.3 L315.6,34.8 L317.1,34.4 L318.5,34.0 L320.0,33.5 L321.4,33.1 L322.9,32.7 L324.3,32.3 L325.8,31.9 L327.2,31.5 L328.7,31.1 L330.1,30.8 L331.6,30.4 L333.1,30.1 L334.5,29.8 L336.0,29.4 L337.5,29.1 L339.0,28.8 L340.5,28.5 L341.9,28.3 L343.4,28.0 L344.9,27.7 L346.4,27.5 L347.9,27.2 L349.4,27.0 L350.9,26.8 L352.4,26.6 L353.9,26.4 L355.4,26.2 L356.9,26.1 L358.4,25.9 L359.9,25.8 L361.4,25.7 L362.9,25.5 L364.4,25.4 L365.9,25.3 L367.4,25.3 L368.9,25.2 L370.4,25.1 L372.0,25.1 L373.5,25.1 L375.0,25.1 L376.5,25.1 L378.0,25.1 L379.5,25.1 L381.1,25.1 L382.6,25.2" fill="none" stroke="#1a1a1a" stroke-width="1.55" stroke-linejoin="round"/>
<path d="M115.5,217.5 L115.9,216.1 L116.2,214.6 L116.6,213.1 L117.0,211.6 L117.4,210.2 L117.8,208.7 L118.3,207.2 L118.7,205.8 L119.1,204.3 L119.6,202.9 L120.0,201.4 L120.5,200.0 L121.0,198.5 L121.5,197.1 L122.0,195.7 L122.5,194.3 L123.1,192.8 L123.6,191.4 L124.1,190.0 L124.7,188.6 L125.3,187.2 L125.9,185.8 L126.5,184.5 L127.1,183.1 L127.7,181.7 L128.3,180.4 L129.0,179.0 L129.6,177.7 L130.3,176.3 L131.0,175.0 L131.7,173.7 L132.4,172.4 L133.1,171.1 L133.8,169.8 L134.6,168.5 L135.3,167.2 L136.1,165.9 L136.9,164.7 L137.7,163.4 L138.5,162.2 L139.3,160.9 L140.2,159.7 L141.0,158.5 L141.8,157.3 L142.7,156.1 L143.6,154.9 L144.5,153.7 L145.4,152.5 L146.3,151.3 L147.2,150.2 L148.1,149.0 L149.1,147.8 L150.0,146.7 L151.0,145.6 L151.9,144.4 L152.9,143.3 L153.9,142.2 L154.9,141.1 L155.9,140.0 L156.9,138.9 L157.9,137.8 L158.9,136.7 L160.0,135.6 L161.0,134.5 L162.1,133.4 L163.1,132.4 L164.2,131.3 L165.3,130.3 L166.3,129.2 L167.4,128.2 L168.5,127.1 L169.6,126.1 L170.7,125.1 L171.8,124.0 L172.9,123.0 L174.1,122.0 L175.2,121.0 L176.3,120.0 L177.5,119.0 L178.6,118.0 L179.8,117.0 L180.9,116.0 L182.1,115.0 L183.2,114.1 L184.4,113.1 L185.5,112.1 L186.7,111.1 L187.9,110.2 L189.1,109.2 L190.3,108.2 L191.4,107.3 L192.6,106.3 L193.8,105.4 L195.0,104.4 L196.2,103.5 L197.4,102.6 L198.6,101.6 L199.8,100.7 L201.0,99.7 L202.2,98.8 L203.4,97.9 L204.6,97.0 L205.8,96.0 L207.0,95.1 L208.2,94.2 L209.4,93.3 L210.7,92.4 L211.9,91.5 L213.1,90.6 L214.3,89.6 L215.5,88.7 L216.7,87.9 L218.0,87.0 L219.2,86.1 L220.4,85.2 L221.7,84.3 L222.9,83.4 L224.1,82.5 L225.4,81.7 L226.6,80.8 L227.8,79.9 L229.1,79.1 L230.3,78.2 L231.6,77.4 L232.8,76.5 L234.1,75.7 L235.3,74.8 L236.6,74.0 L237.8,73.2 L239.1,72.3 L240.4,71.5 L241.6,70.7 L242.9,69.9" fill="none" stroke="#1a1a1a" stroke-width="3.8" stroke-linejoin="round"/>
<path d="M471.3,268.2 L471.3,266.7 L471.2,265.2 L471.2,263.7 L471.2,262.1 L471.3,260.6 L471.3,259.1 L471.4,257.6 L471.4,256.1 L471.5,254.6 L471.6,253.1 L471.7,251.6 L471.9,250.1 L472.0,248.6 L472.2,247.1 L472.3,245.6 L472.5,244.1 L472.7,242.6 L472.9,241.1 L473.1,239.6 L473.3,238.1 L473.5,236.6 L473.7,235.1 L473.9,233.7 L474.2,232.2 L474.4,230.7 L474.7,229.2 L474.9,227.7 L475.1,226.2 L475.4,224.7 L475.6,223.3 L475.9,221.8 L476.1,220.3 L476.4,218.8 L476.6,217.3 L476.9,215.8 L477.1,214.3 L477.3,212.9 L477.6,211.4 L477.8,209.9 L478.0,208.4 L478.2,206.9 L478.4,205.4 L478.6,203.9 L478.8,202.4 L479.0,200.9 L479.2,199.4 L479.3,197.9 L479.5,196.4 L479.7,194.9 L479.8,193.4 L480.0,191.9 L480.2,190.4 L480.4,188.9 L480.6,187.4 L480.8,185.9 L481.0,184.4 L481.3,182.9 L481.6,181.4 L481.9,180.0 L482.3,178.5 L482.7,177.0 L483.1,175.5 L483.6,174.1 L484.1,172.6 L484.6,171.2 L485.3,169.7 L485.9,168.3 L486.7,166.9 L487.4,165.6 L488.3,164.3 L489.2,163.2 L490.2,162.1 L491.2,161.2 L492.3,160.5 L493.5,160.0 L494.8,159.6 L496.1,159.5 L497.5,159.7 L498.9,160.0 L500.4,160.5 L501.8,161.1 L503.2,161.9 L504.5,162.7 L505.7,163.6 L506.9,164.6 L508.1,165.6 L509.2,166.7 L510.3,167.7 L511.4,168.8 L512.5,169.9 L513.6,171.0 L514.7,172.1 L515.8,173.2 L516.9,174.3 L517.9,175.4 L519.0,176.5 L520.1,177.6 L521.2,178.7 L522.2,179.8 L523.3,180.9 L524.4,181.9 L525.5,183.0 L526.6,184.1 L527.6,185.2 L528.7,186.2 L529.8,187.3 L530.9,188.3 L532.1,189.3 L533.2,190.3 L534.3,191.3 L535.4,192.3 L536.6,193.3 L537.7,194.2 L538.9,195.2 L540.0,196.1 L541.2,197.0 L542.4,197.9 L543.6,198.8 L544.8,199.6 L546.1,200.5 L547.3,201.3 L548.6,202.1 L549.8,202.8 L551.1,203.6 L552.4,204.4 L553.7,205.1 L555.0,205.8 L556.3,206.5 L557.6,207.2 L558.9,207.9 L560.3,208.5 L561.6,209.1 L563.0,209.8 L564.4,210.4 L565.7,211.0 L567.1,211.5 L568.5,212.1 L569.9,212.7 L571.3,213.2 L572.7,213.7 L574.1,214.2 L575.5,214.7 L577.0,215.2 L578.4,215.7 L579.8,216.1 L581.3,216.6 L582.7,217.0 L584.2,217.4 L585.7,217.9 L587.1,218.3 L588.6,218.7 L590.1,219.0 L591.5,219.4 L593.0,219.8 L594.5,220.1 L596.0,220.5 L597.5,220.8 L599.0,221.1 L600.5,221.4 L602.0,221.7 L603.5,222.0 L605.0,222.3 L606.5,222.6 L608.0,222.9 L609.5,223.1 L611.0,223.4 L612.5,223.6 L614.0,223.9 L615.5,224.1 L617.0,224.4 L618.5,224.6 L620.0,224.8 L621.5,225.0 L623.0,225.2 L624.6,225.4 L626.1,225.5 L627.6,225.7 L629.1,225.8 L630.6,226.0 L632.1,226.1 L633.6,226.2 L635.1,226.3 L636.6,226.4 L638.1,226.5 L639.6,226.5 L641.1,226.6 L642.6,226.6 L644.1,226.6 L645.6,226.7 L647.1,226.7 L648.6,226.6 L650.1,226.6 L651.6,226.5 L653.1,226.5 L654.6,226.4 L656.1,226.3 L657.6,226.2 L659.1,226.0 L660.5,225.9 L662.0,225.7 L663.5,225.6 L665.0,225.4 L666.5,225.2 L667.9,225.0 L669.4,224.7 L670.9,224.5 L672.4,224.2 L673.8,224.0 L675.3,223.7 L676.8,223.4 L678.2,223.1 L679.7,222.8 L681.1,222.5 L682.6,222.1 L684.1,221.8 L685.5,221.4 L687.0,221.1 L688.4,220.7 L689.9,220.3 L691.3,219.9 L692.8,219.5 L694.2,219.1 L695.7,218.7 L697.1,218.2 L698.6,217.8 L700.0,217.3 L701.5,216.9 L702.9,216.4 L704.4,216.0 L705.8,215.5 L707.2,215.0 L708.7,214.5 L710.1,214.0 L711.5,213.5 L713.0,213.0 L714.4,212.5 L715.8,212.0 L717.3,211.5 L718.7,211.0 L720.1,210.4 L721.5,209.9 L723.0,209.4 L724.4,208.8 L725.8,208.3 L727.2,207.7 L728.7,207.2 L730.1,206.6 L731.5,206.1 L732.9,205.5 L734.3,205.0 L735.7,204.4 L737.2,203.8 L738.6,203.3 L740.0,202.7 L741.4,202.2 L742.8,201.6 L744.2,201.0 L745.6,200.5 L747.0,199.9 L748.4,199.4 L749.8,198.8 L751.2,198.3 L752.6,197.7 L754.0,197.2 L755.5,196.6 L756.9,196.1 L758.3,195.5 L759.7,195.0 L761.1,194.4 L762.5,193.9 L763.8,193.4 L765.2,192.8 L766.6,192.3 L768.0,191.8 L769.4,191.3 L770.8,190.8 L772.2,190.3 L773.6,189.8 L775.0,189.3 L776.4,188.8 L777.8,188.3" fill="none" stroke="#1a1a1a" stroke-width="1.55" stroke-linejoin="round"/>
<path d="M512.5,169.9 L513.6,171.0 L514.7,172.1 L515.8,173.2 L516.9,174.3 L517.9,175.4 L519.0,176.5 L520.1,177.6 L521.2,178.7 L522.2,179.8 L523.3,180.9 L524.4,181.9 L525.5,183.0 L526.6,184.1 L527.6,185.2 L528.7,186.2 L529.8,187.3 L530.9,188.3 L532.1,189.3 L533.2,190.3 L534.3,191.3 L535.4,192.3 L536.6,193.3 L537.7,194.2 L538.9,195.2 L540.0,196.1 L541.2,197.0 L542.4,197.9 L543.6,198.8 L544.8,199.6 L546.1,200.5 L547.3,201.3 L548.6,202.1 L549.8,202.8 L551.1,203.6 L552.4,204.4 L553.7,205.1 L555.0,205.8 L556.3,206.5 L557.6,207.2 L558.9,207.9 L560.3,208.5 L561.6,209.1 L563.0,209.8 L564.4,210.4 L565.7,211.0 L567.1,211.5 L568.5,212.1 L569.9,212.7 L571.3,213.2 L572.7,213.7 L574.1,214.2 L575.5,214.7 L577.0,215.2 L578.4,215.7 L579.8,216.1 L581.3,216.6 L582.7,217.0 L584.2,217.4 L585.7,217.9 L587.1,218.3 L588.6,218.7 L590.1,219.0 L591.5,219.4 L593.0,219.8 L594.5,220.1 L596.0,220.5 L597.5,220.8 L599.0,221.1 L600.5,221.4 L602.0,221.7 L603.5,222.0 L605.0,222.3 L606.5,222.6 L608.0,222.9 L609.5,223.1 L611.0,223.4 L612.5,223.6 L614.0,223.9 L615.5,224.1 L617.0,224.4 L618.5,224.6 L620.0,224.8 L621.5,225.0 L623.0,225.2 L624.6,225.4 L626.1,225.5 L627.6,225.7 L629.1,225.8 L630.6,226.0 L632.1,226.1 L633.6,226.2 L635.1,226.3 L636.6,226.4 L638.1,226.5 L639.6,226.5" fill="none" stroke="#1a1a1a" stroke-width="3.8" stroke-linejoin="round"/>
<path d="M133.7,268.0 L134.5,266.7 L135.3,265.5 L136.1,264.2 L137.0,262.9 L137.8,261.7 L138.7,260.4 L139.6,259.2 L140.4,257.9 L141.3,256.7 L142.2,255.4 L143.1,254.2 L144.0,253.0 L144.9,251.8 L145.8,250.6 L146.7,249.4 L147.7,248.2 L148.6,247.0 L149.5,245.9 L150.5,244.7 L151.4,243.5 L152.4,242.4 L153.4,241.2 L154.3,240.0 L155.3,238.9 L156.3,237.8 L157.3,236.6 L158.3,235.5 L159.3,234.4 L160.3,233.3 L161.3,232.2 L162.3,231.0 L163.3,229.9 L164.3,228.8 L165.4,227.8 L166.4,226.7 L167.5,225.6 L168.5,224.5 L169.6,223.4 L170.6,222.4 L171.7,221.3 L172.7,220.2 L173.8,219.2 L174.9,218.1 L176.0,217.1 L177.0,216.1 L178.1,215.0 L179.2,214.0 L180.3,212.9 L181.4,211.9 L182.5,210.9 L183.6,209.9 L184.7,208.9 L185.9,207.8 L187.0,206.8 L188.1,205.8 L189.2,204.8 L190.4,203.8 L191.5,202.8 L192.6,201.8 L193.8,200.9 L194.9,199.9 L196.0,198.9 L197.2,197.9 L198.3,196.9 L199.5,196.0 L200.7,195.0 L201.8,194.0 L203.0,193.0 L204.1,192.1 L205.3,191.1 L206.5,190.2 L207.6,189.2 L208.8,188.2 L210.0,187.3 L211.2,186.3 L212.3,185.4 L213.5,184.4 L214.7,183.5 L215.9,182.6 L217.1,181.6 L218.3,180.7 L219.5,179.7 L220.6,178.8 L221.8,177.9 L223.0,176.9 L224.2,176.0 L225.4,175.1 L226.6,174.1 L227.8,173.2 L229.0,172.3 L230.2,171.3 L231.4,170.4 L232.6,169.5 L233.8,168.6 L235.0,167.6 L236.2,166.7 L237.4,165.8 L238.6,164.9 L239.8,163.9 L241.0,163.0 L242.2,162.1 L243.4,161.2 L244.6,160.3 L245.8,159.3 L247.0,158.4 L248.2,157.5 L249.4,156.6 L250.6,155.7 L251.8,154.7 L253.0,153.8 L254.2,152.9 L255.4,152.0 L256.6,151.0 L257.8,150.1 L259.0,149.2 L260.2,148.3 L261.4,147.4 L262.6,146.4 L263.8,145.5 L265.0,144.6 L266.2,143.7 L267.4,142.8 L268.6,141.9 L269.8,140.9 L271.0,140.0 L272.2,139.1 L273.4,138.2 L274.6,137.3 L275.8,136.4 L277.0,135.5 L278.2,134.5 L279.4,133.6 L280.6,132.7 L281.8,131.8 L283.0,130.9 L284.2,130.0 L285.4,129.1 L286.6,128.2 L287.8,127.3 L289.0,126.4 L290.3,125.5 L291.5,124.6 L292.7,123.7 L293.9,122.8 L295.1,121.9 L296.3,121.0 L297.5,120.1 L298.7,119.2 L299.9,118.3 L301.1,117.4 L302.4,116.5 L303.6,115.6 L304.8,114.7 L306.0,113.8 L307.2,112.9 L308.4,112.0 L309.6,111.1 L310.9,110.2 L312.1,109.4 L313.3,108.5 L314.5,107.6 L315.7,106.7 L317.0,105.8 L318.2,104.9 L319.4,104.1 L320.6,103.2 L321.9,102.3 L323.1,101.4 L324.3,100.6 L325.6,99.7 L326.8,98.8 L328.0,98.0 L329.3,97.1 L330.5,96.2 L331.7,95.4 L333.0,94.5 L334.2,93.7 L335.4,92.8 L336.7,92.0 L337.9,91.1 L339.2,90.3 L340.4,89.4 L341.7,88.6 L342.9,87.7 L344.2,86.9 L345.4,86.0 L346.7,85.2 L347.9,84.3 L349.2,83.5 L350.4,82.7 L351.7,81.8 L353.0,81.0 L354.2,80.2 L355.5,79.4 L356.8,78.5 L358.0,77.7 L359.3,76.9 L360.6,76.1 L361.8,75.3 L363.1,74.4 L364.4,73.6 L365.7,72.8 L366.9,72.0 L368.2,71.2 L369.5,70.4 L370.8,69.6 L372.1,68.8 L373.4,68.0 L374.7,67.2 L375.9,66.4 L377.2,65.6 L378.5,64.8 L379.8,64.1 L381.1,63.3 L382.4,62.5" fill="none" stroke="#1a1a1a" stroke-width="1.55" stroke-linejoin="round"/>
<path d="M174.9,218.1 L176.0,217.1 L177.0,216.1 L178.1,215.0 L179.2,214.0 L180.3,212.9 L181.4,211.9 L182.5,210.9 L183.6,209.9 L184.7,208.9 L185.9,207.8 L187.0,206.8 L188.1,205.8 L189.2,204.8 L190.4,203.8 L191.5,202.8 L192.6,201.8 L193.8,200.9 L194.9,199.9 L196.0,198.9 L197.2,197.9 L198.3,196.9 L199.5,196.0 L200.7,195.0 L201.8,194.0 L203.0,193.0 L204.1,192.1 L205.3,191.1 L206.5,190.2 L207.6,189.2 L208.8,188.2 L210.0,187.3 L211.2,186.3 L212.3,185.4 L213.5,184.4 L214.7,183.5 L215.9,182.6 L217.1,181.6 L218.3,180.7 L219.5,179.7 L220.6,178.8 L221.8,177.9 L223.0,176.9 L224.2,176.0 L225.4,175.1 L226.6,174.1 L227.8,173.2 L229.0,172.3 L230.2,171.3 L231.4,170.4 L232.6,169.5 L233.8,168.6 L235.0,167.6 L236.2,166.7 L237.4,165.8 L238.6,164.9 L239.8,163.9 L241.0,163.0 L242.2,162.1 L243.4,161.2 L244.6,160.3 L245.8,159.3 L247.0,158.4 L248.2,157.5 L249.4,156.6 L250.6,155.7 L251.8,154.7 L253.0,153.8 L254.2,152.9 L255.4,152.0 L256.6,151.0 L257.8,150.1 L259.0,149.2 L260.2,148.3 L261.4,147.4 L262.6,146.4 L263.8,145.5 L265.0,144.6 L266.2,143.7 L267.4,142.8 L268.6,141.9 L269.8,140.9 L271.0,140.0 L272.2,139.1 L273.4,138.2 L274.6,137.3 L275.8,136.4 L277.0,135.5 L278.2,134.5 L279.4,133.6 L280.6,132.7 L281.8,131.8 L283.0,130.9 L284.2,130.0 L285.4,129.1 L286.6,128.2 L287.8,127.3 L289.0,126.4 L290.3,125.5 L291.5,124.6 L292.7,123.7 L293.9,122.8 L295.1,121.9 L296.3,121.0 L297.5,120.1 L298.7,119.2 L299.9,118.3 L301.1,117.4 L302.4,116.5 L303.6,115.6 L304.8,114.7 L306.0,113.8 L307.2,112.9 L308.4,112.0 L309.6,111.1 L310.9,110.2 L312.1,109.4 L313.3,108.5 L314.5,107.6 L315.7,106.7 L317.0,105.8 L318.2,104.9 L319.4,104.1 L320.6,103.2 L321.9,102.3 L323.1,101.4 L324.3,100.6 L325.6,99.7 L326.8,98.8 L328.0,98.0 L329.3,97.1 L330.5,96.2 L331.7,95.4 L333.0,94.5 L334.2,93.7 L335.4,92.8 L336.7,92.0 L337.9,91.1 L339.2,90.3 L340.4,89.4 L341.7,88.6 L342.9,87.7 L344.2,86.9 L345.4,86.0 L346.7,85.2 L347.9,84.3 L349.2,83.5 L350.4,82.7 L351.7,81.8 L353.0,81.0 L354.2,80.2 L355.5,79.4 L356.8,78.5 L358.0,77.7 L359.3,76.9 L360.6,76.1 L361.8,75.3 L363.1,74.4 L364.4,73.6 L365.7,72.8 L366.9,72.0 L368.2,71.2 L369.5,70.4 L370.8,69.6" fill="none" stroke="#1a1a1a" stroke-width="3.8" stroke-linejoin="round"/>
<path d="M472.0,268.2 L472.2,266.7 L472.4,265.3 L472.5,263.8 L472.6,262.3 L472.8,260.8 L472.8,259.3 L472.9,257.8 L473.0,256.3 L473.0,254.8 L473.0,253.2 L473.1,251.7 L473.1,250.2 L473.1,248.7 L473.2,247.1 L473.2,245.6 L473.3,244.1 L473.4,242.6 L473.4,241.1 L473.5,239.5 L473.7,238.0 L473.8,236.5 L474.0,235.0 L474.2,233.6 L474.4,232.1 L474.7,230.6 L474.9,229.1 L475.2,227.7 L475.5,226.2 L475.8,224.7 L476.1,223.3 L476.4,221.8 L476.7,220.4 L477.1,218.9 L477.4,217.4 L477.7,216.0 L478.0,214.5 L478.3,213.0 L478.6,211.6 L478.8,210.1 L479.1,208.6 L479.3,207.1 L479.5,205.6 L479.7,204.1 L479.9,202.6 L480.0,201.1 L480.1,199.5 L480.2,198.0 L480.2,196.4 L480.3,194.9 L480.4,193.3 L480.5,191.8 L480.6,190.3 L480.8,188.8 L481.0,187.3 L481.2,185.8 L481.6,184.3 L482.0,182.9 L482.5,181.5 L483.1,180.1 L483.8,178.8 L484.6,177.5 L485.6,176.3 L486.6,175.2 L487.7,174.3 L488.9,173.6 L490.1,173.0 L491.5,172.7 L492.9,172.6 L494.3,172.8 L495.8,173.2 L497.3,173.7 L498.8,174.4 L500.2,175.1 L501.5,176.0 L502.8,176.9 L504.1,177.8 L505.3,178.8 L506.4,179.8 L507.5,180.8 L508.6,181.9 L509.7,182.9 L510.7,184.0 L511.7,185.1 L512.7,186.2 L513.7,187.3 L514.7,188.4 L515.6,189.5 L516.6,190.6 L517.6,191.7 L518.6,192.8 L519.7,193.9 L520.7,195.0 L521.7,196.1 L522.8,197.2 L523.8,198.2 L524.9,199.3 L525.9,200.4 L527.0,201.5 L528.1,202.5 L529.2,203.6 L530.2,204.7 L531.3,205.7 L532.4,206.7 L533.6,207.8 L534.7,208.8 L535.8,209.8 L536.9,210.8 L538.1,211.8 L539.2,212.8 L540.3,213.8 L541.5,214.8 L542.7,215.8 L543.8,216.7 L545.0,217.7 L546.2,218.6 L547.4,219.5 L548.6,220.4 L549.8,221.2 L551.0,222.1 L552.3,222.9 L553.6,223.7 L554.8,224.4 L556.2,225.1 L557.5,225.8 L558.8,226.4 L560.2,227.1 L561.6,227.7 L562.9,228.2 L564.3,228.8 L565.7,229.3 L567.2,229.9 L568.6,230.4 L570.0,230.9 L571.4,231.4 L572.8,231.9 L574.3,232.4 L575.7,232.9 L577.1,233.4 L578.5,233.9 L580.0,234.4 L581.4,234.9 L582.8,235.4 L584.2,235.9 L585.7,236.4 L587.1,236.9 L588.5,237.4 L590.0,237.9 L591.4,238.3 L592.8,238.8 L594.3,239.3 L595.7,239.7 L597.2,240.2 L598.6,240.6 L600.0,241.0 L601.5,241.4 L602.9,241.9 L604.4,242.2 L605.8,242.6 L607.3,243.0 L608.7,243.4 L610.2,243.7 L611.7,244.1 L613.1,244.4 L614.6,244.7 L616.1,245.1 L617.5,245.4 L619.0,245.7 L620.5,246.0 L622.0,246.2 L623.4,246.5 L624.9,246.8 L626.4,247.0 L627.9,247.3 L629.4,247.5 L630.8,247.8 L632.3,248.0 L633.8,248.2 L635.3,248.4 L636.8,248.7 L638.3,248.9 L639.8,249.1 L641.3,249.3 L642.8,249.5 L644.2,249.6 L645.7,249.8 L647.2,250.0 L648.7,250.2 L650.2,250.4 L651.7,250.5 L653.2,250.7 L654.7,250.9 L656.2,251.0 L657.7,251.2 L659.2,251.3 L660.7,251.5 L662.2,251.6 L663.7,251.8 L665.2,251.9 L666.7,252.1 L668.2,252.2 L669.7,252.3 L671.2,252.5 L672.7,252.6 L674.2,252.7 L675.7,252.9 L677.2,253.0 L678.7,253.1 L680.2,253.2 L681.7,253.3 L683.2,253.4 L684.7,253.5 L686.3,253.6 L687.8,253.7 L689.3,253.8 L690.8,253.9 L692.3,254.0 L693.8,254.1 L695.3,254.1 L696.8,254.2 L698.3,254.3 L699.8,254.3 L701.3,254.4 L702.8,254.5 L704.3,254.5 L705.8,254.6 L707.3,254.6 L708.8,254.7 L710.3,254.7 L711.8,254.7 L713.3,254.8 L714.9,254.8 L716.4,254.8 L717.9,254.8 L719.4,254.9 L720.9,254.9 L722.4,254.9 L723.9,254.9 L725.4,254.9 L726.9,254.9 L728.4,254.9 L729.9,254.9 L731.4,254.8 L732.9,254.8 L734.4,254.8 L735.9,254.8 L737.4,254.7 L738.9,254.7 L740.4,254.7 L741.9,254.6 L743.4,254.6 L745.0,254.5 L746.5,254.5 L748.0,254.4 L749.5,254.3 L751.0,254.2 L752.5,254.2 L754.0,254.1 L755.5,254.0 L757.0,253.9 L758.5,253.8 L760.0,253.7 L761.5,253.6 L763.0,253.5 L764.5,253.4 L766.0,253.3 L767.5,253.1 L769.0,253.0 L770.5,252.9 L772.0,252.7 L773.5,252.6 L775.0,252.5 L776.4,252.3 L777.9,252.1" fill="none" stroke="#1a1a1a" stroke-width="1.55" stroke-linejoin="round"/>
<path d="M572.8,231.9 L574.3,232.4 L575.7,232.9 L577.1,233.4 L578.5,233.9 L580.0,234.4 L581.4,234.9 L582.8,235.4 L584.2,235.9 L585.7,236.4 L587.1,236.9 L588.5,237.4 L590.0,237.9 L591.4,238.3 L592.8,238.8 L594.3,239.3 L595.7,239.7 L597.2,240.2 L598.6,240.6 L600.0,241.0 L601.5,241.4 L602.9,241.9 L604.4,242.2 L605.8,242.6 L607.3,243.0 L608.7,243.4 L610.2,243.7 L611.7,244.1 L613.1,244.4 L614.6,244.7 L616.1,245.1 L617.5,245.4 L619.0,245.7 L620.5,246.0 L622.0,246.2 L623.4,246.5 L624.9,246.8 L626.4,247.0 L627.9,247.3 L629.4,247.5 L630.8,247.8 L632.3,248.0 L633.8,248.2 L635.3,248.4 L636.8,248.7 L638.3,248.9 L639.8,249.1 L641.3,249.3 L642.8,249.5 L644.2,249.6 L645.7,249.8 L647.2,250.0 L648.7,250.2 L650.2,250.4 L651.7,250.5 L653.2,250.7 L654.7,250.9 L656.2,251.0 L657.7,251.2 L659.2,251.3 L660.7,251.5 L662.2,251.6 L663.7,251.8 L665.2,251.9 L666.7,252.1 L668.2,252.2 L669.7,252.3 L671.2,252.5 L672.7,252.6 L674.2,252.7 L675.7,252.9 L677.2,253.0 L678.7,253.1 L680.2,253.2 L681.7,253.3 L683.2,253.4 L684.7,253.5 L686.3,253.6 L687.8,253.7 L689.3,253.8 L690.8,253.9 L692.3,254.0 L693.8,254.1 L695.3,254.1 L696.8,254.2 L698.3,254.3 L699.8,254.3 L701.3,254.4 L702.8,254.5 L704.3,254.5 L705.8,254.6 L707.3,254.6 L708.8,254.7 L710.3,254.7 L711.8,254.7 L713.3,254.8 L714.9,254.8 L716.4,254.8 L717.9,254.8 L719.4,254.9 L720.9,254.9 L722.4,254.9 L723.9,254.9 L725.4,254.9 L726.9,254.9 L728.4,254.9 L729.9,254.9 L731.4,254.8 L732.9,254.8 L734.4,254.8 L735.9,254.8 L737.4,254.7 L738.9,254.7 L740.4,254.7 L741.9,254.6 L743.4,254.6 L745.0,254.5 L746.5,254.5 L748.0,254.4 L749.5,254.3 L751.0,254.2 L752.5,254.2 L754.0,254.1 L755.5,254.0 L757.0,253.9 L758.5,253.8 L760.0,253.7 L761.5,253.6 L763.0,253.5 L764.5,253.4 L766.0,253.3" fill="none" stroke="#1a1a1a" stroke-width="3.8" stroke-linejoin="round"/>
<text x="132.9" y="37.2" transform="rotate(-28 132.9 37.2)" text-anchor="middle" dominant-baseline="central" class="cl" style="font-size:12px">0 %</text>
<text x="144.2" y="47.3" transform="rotate(-29 144.2 47.3)" text-anchor="middle" dominant-baseline="central" class="cl" style="font-size:12px">5 %</text>
<text x="159.1" y="55.2" transform="rotate(-32 159.1 55.2)" text-anchor="middle" dominant-baseline="central" class="cl" style="font-size:12px">10 %</text>
<text x="195.9" y="91.0" transform="rotate(-33 195.9 91.0)" text-anchor="middle" dominant-baseline="central" class="cl" style="font-size:12px">20 %</text>
<text x="251.4" y="140.6" transform="rotate(-31 251.4 140.6)" text-anchor="middle" dominant-baseline="central" class="cl" style="font-size:12px">30 %</text>
<text x="515.0" y="84.2" transform="rotate(-45 515.0 84.2)" text-anchor="middle" dominant-baseline="central" class="cl" style="font-size:12px">0 %</text>
<text x="546.9" y="128.5" text-anchor="middle" class="cl">5 %</text>
<text x="578.5" y="168.8" text-anchor="middle" class="cl">10 %</text>
<text x="615.1" y="219.0" text-anchor="middle" class="cl">20 %</text>
<text x="675.9" y="248.8" text-anchor="middle" class="cl">30 %</text>
<path d="M505.4,169.4 L518.4,169.4 M511.9,162.9 L511.9,175.9" stroke="#1a1a1a" stroke-width="1.5"/>
<path d="M633.8,226.5 L646.8,226.5 M640.3,220.0 L640.3,233.0" stroke="#1a1a1a" stroke-width="1.5"/>
<text x="515.5" y="167.4" class="ab">a</text>
<text x="643.6" y="223.3" class="ab">b</text>
<text x="68.0" y="38.1" class="pl">(a)</text>
<text x="460.7" y="38.6" class="pl">(b)</text>
<text x="295.2" y="311.9" class="al">Inspired oxygen fraction FiO<tspan class="sub" dy="4.7">2</tspan></text>
<text transform="translate(19.2 302.0) rotate(-90)" class="al" style="font-size:18.85px">Arterial oxygen saturation SaO<tspan class="sub" dy="4.7">2</tspan><tspan dy="-4.7"> (%)</tspan></text>
<text transform="translate(416.6 244.0) rotate(-90)" class="al" style="font-size:18.75px">PaO<tspan class="sub" dy="4.7">2</tspan><tspan dy="-4.7">/FiO</tspan><tspan class="sub" dy="4.7">2</tspan><tspan dy="-4.7"> ratio (kPa)</tspan></text>
</svg>
</body></html>
